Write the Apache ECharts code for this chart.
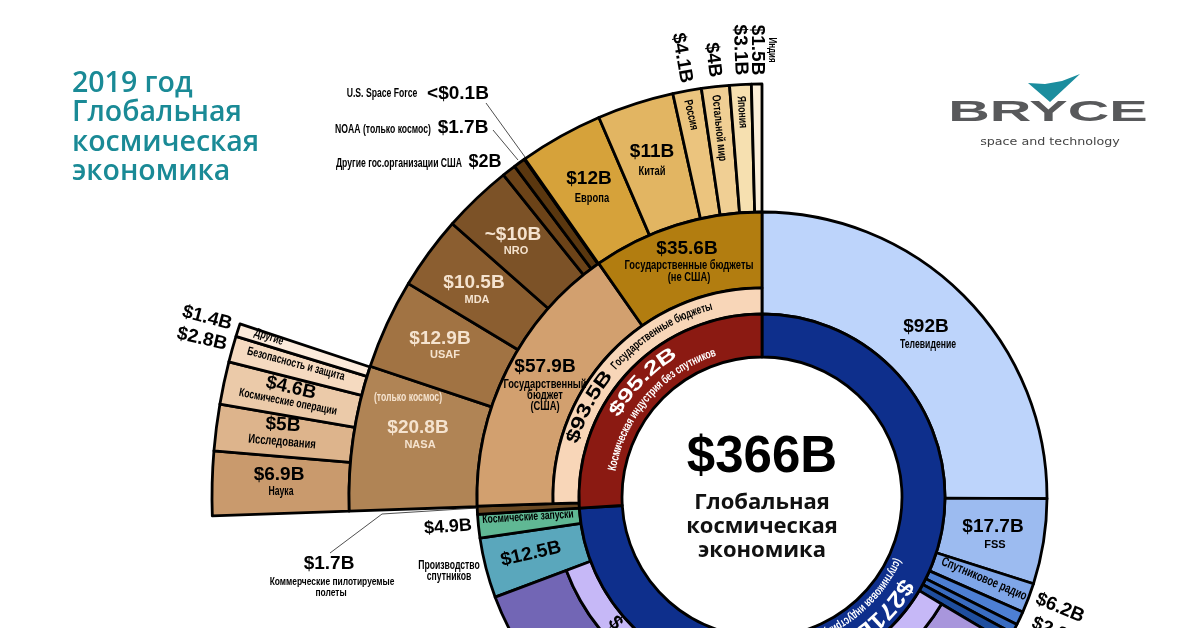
<!doctype html>
<html>
<head>
<meta charset="utf-8">
<title>2019 Global Space Economy</title>
<script src="https://cdnjs.cloudflare.com/ajax/libs/echarts/6.0.0/echarts.min.js"></script>
<style>
  html, body { margin: 0; background: #fff; }
  #chart { width: 1200px; height: 628px; }
</style>
</head>
<body>
<div id="chart"></div>
<script>
// values in $B
var coreNames = ['Спутниковая индустрия', 'Космическая индустрия без спутников'];
var coreValues = [271.4, 95.2];

var serviceNames = ['Телевидение', 'FSS', 'Спутниковое радио', 'Полоса 1', 'Полоса 2', 'Полоса 3'];
var serviceValues = [92, 17.7, 6.2, 2.8, 2, 2.3];

var groundTotal = [131];
var groundNames = ['Наземное оборудование A', 'Наземное оборудование B'];
var groundValues = [65.9, 65.1];

var industryNames = ['Производство спутников', 'Космические запуски', 'Коммерческие пилотируемые полеты'];
var industryValues = [12.5, 4.9, 1.7];

var budgetTotal = [93.5];
var budgetNames = ['Государственный бюджет (США)', 'Государственные бюджеты (не США)'];
var budgetValues = [57.9, 35.6];

var usNames = ['NASA', 'USAF', 'MDA', 'NRO', 'Другие гос.организации США', 'NOAA', 'U.S. Space Force'];
var usValues = [20.8, 12.9, 10.5, 10, 2, 1.7, 0.1];

var worldNames = ['Европа', 'Китай', 'Россия', 'Остальной мир', 'Япония', 'Индия'];
var worldValues = [12, 11, 4.1, 4, 3.1, 1.5];

var nasaNames = ['Наука', 'Исследования', 'Космические операции', 'Безопасность и защита', 'Другие'];
var nasaValues = [6.9, 5, 4.6, 2.8, 1.4];

// colours, same order as above
var coreColors = ['#0e2f8c', '#8b1a12'];
var serviceColors = ['#bdd4fb', '#9cbbf0', '#7fa6e8', '#4d7fd3', '#3a6cc0', '#1f4e9e'];
var groundTotalColor = '#c6b8f7';
var groundColors = ['#a896dc', '#7266b5'];
var industryColors = ['#5aa7bc', '#60b894', '#6b4a24'];
var budgetTotalColor = '#f8d6b8';
var budgetColors = ['#d2a06f', '#b27d10'];
var usColors = ['#b08455', '#a17343', '#8b5e30', '#7c5227', '#6c4318', '#5a370f', '#3b2208'];
var worldColors = ['#d6a23a', '#e2b562', '#ebc47e', '#f0cf94', '#f6e0b0', '#fbefd9'];
var nasaColors = ['#c99a6d', '#ddb48c', '#ebcaa9', '#f5dac0', '#fcebdb'];

var CX = 762, CY = 497;
var BOLD = "'Liberation Sans', Arial, sans-serif";
var SEMI = "'Open Sans', 'Noto Sans', sans-serif";

function sum(a) {
  return a.reduce(function (s, v) { return s + v; }, 0);
}

// one pie per ring, gaps are transparent slices
function gap(v) {
  return { name: '', value: v, itemStyle: { color: 'transparent', borderWidth: 0 } };
}
function slices(names, values, colors) {
  return values.map(function (v, i) {
    return { name: names[i], value: v, itemStyle: { color: colors[i] } };
  });
}
function ring(r0, r, data) {
  return {
    type: 'pie',
    center: [CX, CY],
    radius: [r0, r],
    startAngle: 90,
    clockwise: true,
    silent: true,
    animation: false,
    avoidLabelOverlap: false,
    label: { show: false },
    labelLine: { show: false },
    emphasis: { disabled: true },
    itemStyle: { borderColor: '#000', borderWidth: 2.8 },
    data: data
  };
}

var servicesSum = sum(serviceValues);
var industrySum = sum(industryValues);
var leftStart = servicesSum + groundTotal[0] + industrySum;

var series = [
  ring(413, 550, [gap(leftStart)].concat(slices(nasaNames, nasaValues, nasaColors), [gap(sum(usValues) - sum(nasaValues) + sum(worldValues))])),
  ring(285, 413, [gap(leftStart)].concat(slices(usNames, usValues, usColors), slices(worldNames, worldValues, worldColors))),
  ring(183, 285, slices(serviceNames, serviceValues, serviceColors).concat(
    [gap(groundTotal[0])], slices(industryNames, industryValues, industryColors), [gap(budgetTotal[0])])),
  ring(209, 285, [gap(servicesSum)].concat(slices(groundNames, groundValues, groundColors),
    [gap(industrySum)], slices(budgetNames, budgetValues, budgetColors))),
  ring(183, 209, [gap(servicesSum), { name: 'Наземное оборудование', value: groundTotal[0], itemStyle: { color: groundTotalColor } },
    gap(industrySum), { name: 'Государственные бюджеты', value: budgetTotal[0], itemStyle: { color: budgetTotalColor } }]),
  ring(140, 183, slices(coreNames, coreValues, coreColors))
];

// text helpers
var g = [];
var NARROW_X = 0.72; // no condensed face installed, squeeze the bold one
function txt(s, x, y, font, fill, rot, scaleX) {
  g.push({
    type: 'text', x: x, y: y, z: 10, silent: true,
    rotation: (rot || 0) * Math.PI / 180,
    scaleX: scaleX || 1,
    style: { text: s, x: 0, y: 0, font: font, fill: fill || '#000', align: 'center', verticalAlign: 'middle' }
  });
}
function big(s, x, y, size, fill, rot) { txt(s, x, y, 'bold ' + size + 'px ' + BOLD, fill, rot); }
function nar(s, x, y, size, fill, rot) { txt(s, x, y, 'bold ' + size + 'px ' + BOLD, fill, rot, NARROW_X); }
function sans(s, x, y, size, fill) { txt(s, x, y, 'bold ' + size + 'px ' + BOLD, fill); }

var measure = document.createElement('canvas').getContext('2d');
// text along a circle, clockwise, tops outward, squeezed to fit from..to
// angles clockwise from 12 o'clock
function arcText(s, r, from, to, font, fill) {
  measure.font = font;
  var k = ((to - from) * Math.PI / 180 * r) / measure.measureText(s).width;
  var pos = from;
  s.split('').forEach(function (ch) {
    var w = measure.measureText(ch).width * k;
    var a = pos + (w / 2) / r * 180 / Math.PI;
    var rad = a * Math.PI / 180;
    txt(ch, CX + r * Math.sin(rad), CY - r * Math.cos(rad), font, fill, -a, k);
    pos += w / r * 180 / Math.PI;
  });
}

var CREAM = '#f5e3cf';

// title
['2019 год', 'Глобальная', 'космическая', 'экономика'].forEach(function (s, i) {
  g.push({
    type: 'text', x: 72, y: 84 + i * 29.3, z: 10, silent: true,
    style: { text: s, x: 0, y: 0, font: '600 28.5px ' + SEMI, fill: '#1a8a96', align: 'left', verticalAlign: 'middle' }
  });
});

// centre
big('$366B', CX, 458, 51, '#000');
txt('Глобальная', CX, 503, '700 22px ' + SEMI, '#111');
txt('космическая', CX, 527, '700 22px ' + SEMI, '#111');
txt('экономика', CX, 551, '700 22px ' + SEMI, '#111');

// blue side
big('$92B', 926, 327, 19);
nar('Телевидение', 928, 345, 12);
big('$17.7B', 993, 527, 19);
sans('FSS', 995, 545, 11);
nar('Спутниковое радио', 984, 579, 13, '#000', -23);
big('$6.2B', 1060, 608, 19, '#000', -22);
big('$2.3B', 1056, 632, 19, '#000', -22);

// gold side
big('$35.6B', 687, 249, 19);
nar('Государственные бюджеты', 689, 265, 13);
nar('(не США)', 689, 277, 13);
big('$12B', 589, 179, 19);
nar('Европа', 592, 198, 13);
big('$11B', 652, 152, 19);
nar('Китай', 652, 171, 13);
nar('Россия', 691, 115, 12, '#000', -77);
nar('Остальной мир', 719, 128, 12, '#000', -84);
nar('Япония', 742, 112, 12, '#000', -86);
nar('Индия', 772, 50, 11, '#000', -90);
big('$4.1B', 682, 58, 19, '#000', -80);
big('$4B', 713, 60, 19, '#000', -83);
big('$3.1B', 740, 50, 19, '#000', -88);
big('$1.5B', 757, 50, 19, '#000', -90);

// brown side
nar('U.S. Space Force', 382, 94, 12);
big('<$0.1B', 458, 94, 19);
nar('NOAA (только космос)', 383, 130, 12);
big('$1.7B', 463, 128, 19);
nar('Другие гос.организации США', 399, 164, 12);
big('$2B', 485, 162, 18);
big('~$10B', 513, 235, 19, CREAM);
sans('NRO', 516, 251, 11, CREAM);
big('$10.5B', 474, 283, 19, CREAM);
sans('MDA', 477, 300, 11, CREAM);
big('$12.9B', 440, 339, 19, CREAM);
sans('USAF', 445, 355, 11, CREAM);
nar('(только космос)', 408, 398, 12, CREAM);
big('$20.8B', 418, 428, 19, CREAM);
sans('NASA', 420, 445, 11, CREAM);
big('$57.9B', 545, 367, 19);
nar('Государственный', 545, 384, 13);
nar('бюджет', 545, 395, 13);
nar('(США)', 545, 406, 13);

// nasa breakdown
big('$6.9B', 279, 475, 19);
nar('Наука', 281, 492, 12);
big('$5B', 283, 425, 19, '#000', -3);
nar('Исследования', 282, 442, 13, '#000', -5);
big('$4.6B', 291, 388, 19, '#000', -13);
nar('Космические операции', 288, 402, 12, '#000', -11);
nar('Безопасность и защита', 296, 364, 12, '#000', -15);
nar('Другие', 269, 337, 12, '#000', -19);
big('$1.4B', 207, 318, 19, '#000', -15);
big('$2.8B', 202, 339, 19, '#000', -13);

// bottom left
big('$1.7B', 329, 564, 19);
nar('Коммерческие пилотируемые', 332, 582, 11.7);
nar('полеты', 331, 593, 11.7);
nar('Производство', 449, 566, 12);
nar('спутников', 449, 577, 12);
big('$4.9B', 448, 527, 18, '#000', 4);
nar('Космические запуски', 528, 517, 12, '#000', 3.5);
big('$12.5B', 531, 554, 19, '#000', 13);

// ring text
arcText('$93.5B', 197, 286, 309, 'bold 19px ' + BOLD, '#000');
arcText('Государственные бюджеты', 197, 311, 345, 'bold 12px ' + BOLD, '#000');
arcText('$95.2B', 169, 299, 329, 'bold 19px ' + BOLD, '#fff');
arcText('Космическая индустрия без спутников', 152, 280, 342, 'bold 12px ' + BOLD, '#fff');
arcText('$271B', 168, 120, 146, 'bold 23px ' + BOLD, '#fff');
arcText('(спутниковая индустрия)', 150, 114.5, 155, 'bold 12px ' + BOLD, '#fff');
txt('$', 615, 623, 'bold 20px ' + BOLD, '#000', -49);

// leader lines
function leader(pts) {
  g.push({ type: 'polyline', z: 9, silent: true, shape: { points: pts }, style: { stroke: '#222', lineWidth: 0.8, fill: null } });
}
leader([[486, 103], [525, 157]]);
leader([[493, 130], [518, 160]]);
leader([[477, 508], [382, 514], [330, 553]]);

// logo
g.push({
  type: 'polygon', z: 10, silent: true,
  shape: { points: [[1028, 83], [1045, 84], [1062, 81], [1080, 74], [1065, 88], [1050, 102]] },
  style: { fill: '#1b8d9e' }
});
txt('BRYCE', 1048, 113, 'bold 30px ' + BOLD, '#58595b', 0, 1.92);
txt('space and technology', 1050, 142, '10px DejaVu Sans', '#444', 0, 1.27);

var myChart = echarts.init(document.getElementById('chart'));
myChart.setOption({
  backgroundColor: '#fff',
  animation: false,
  series: series,
  graphic: { elements: g }
});
</script>
</body>
</html>
